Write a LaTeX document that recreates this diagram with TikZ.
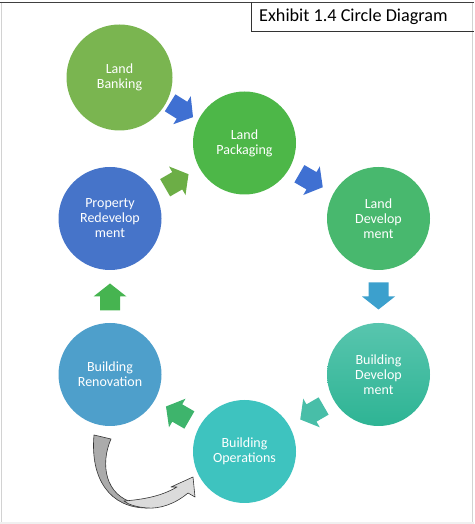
\documentclass[tikz,border=0pt]{standalone}
\usepackage{fontspec}
\setmainfont{Carlito}
\usepackage{xcolor}
\usetikzlibrary{calc}

\definecolor{bankgreen}{RGB}{122,181,80}
\definecolor{packgreen}{RGB}{77,183,72}
\definecolor{devgreen}{RGB}{72,184,110}
\definecolor{bdtop}{RGB}{88,197,174}
\definecolor{bdbot}{RGB}{46,180,148}
\definecolor{opsteal}{RGB}{62,195,191}
\definecolor{renoblue}{RGB}{78,159,203}
\definecolor{propblue}{RGB}{70,116,201}
\definecolor{arrblue}{RGB}{63,112,210}
\definecolor{arrsky}{RGB}{60,160,205}
\definecolor{arrteal}{RGB}{72,190,168}
\definecolor{arrgreen}{RGB}{62,180,108}
\definecolor{arrleaf}{RGB}{70,180,80}
\definecolor{arrolive}{RGB}{108,174,70}

\begin{document}
\begin{tikzpicture}[x=1pt, y=1pt,
  stage/.style={circle, minimum size=103pt, inner sep=0pt, text=white, align=center,
    font=\fontsize{14}{15}\selectfont},
  blockarr/.pic={\fill[pic actions] (-14,-10) -- (0,-10) -- (0,-16.5) -- (13,0) -- (0,16.5) -- (0,10) -- (-14,10) -- cycle;},
  curvearr/.style={draw=black!80, line width=0.6pt, line join=round}]
\useasboundingbox (0,0) rectangle (474,524);

% frame and title
\fill[gray!12] (0,0) rectangle (474,2.3);
\draw[gray!35] (1.5,2.3) -- (1.5,521.5);
\draw[gray!35] (472.5,2.3) -- (472.5,521.5);
\draw[black!75, line width=0.8pt] (0,521.5) -- (474,521.5);
\draw[black!80, line width=0.8pt] (251,521.5) -- (251,492.3) -- (474,492.3);
\node[anchor=west, inner sep=0pt, font=\fontsize{18.2}{20}\selectfont] (title) at (259,507) {Exhibit 1.4 Circle Diagram};

% stages
\node[stage, fill=bankgreen, minimum size=106pt] (lb) at (119.5,446.5) {Land\\Banking};
\node[stage, fill=packgreen] (lp) at (244.5,381) {Land\\Packaging};
\node[stage, fill=devgreen] (ld) at (378.5,305.5) {Land\\Develop\\ment};
\node[stage, top color=bdtop, bottom color=bdbot] (bd) at (378.5,149.5) {Building\\Develop\\ment};
\node[stage, fill=opsteal] (bo) at (244.5,72.5) {Building\\Operations};
\node[stage, fill=renoblue] (br) at (110,149.5) {Building\\Renovation};
\node[stage, fill=propblue] (pr) at (110,305.5) {Property\\Redevelop\\ment};

% block arrows between stages
\foreach \a/\b/\ang/\col in {lb/lp/-32/arrblue, lp/ld/-30/arrblue, ld/bd/-90/arrsky,
    bd/bo/-150/arrteal, bo/br/150/arrgreen, br/pr/90/arrleaf, pr/lp/30/arrolive}
  \pic[rotate=\ang, fill=\col] at ($(\a)!0.5!(\b)$) {blockarr};

% curved arrow from renovation back to operations
\draw[curvearr, fill=black!33] (94,89) -- (111,85) .. controls (100,60) and (105,28) .. (135,21)
  -- (147,16) .. controls (110,16) and (90,45) .. (94,89) -- cycle;
\draw[curvearr, fill=black!14] (124,23) .. controls (150,25) and (165,30) .. (177,37)
  -- (171,37) -- (193,47) -- (195,27) -- (188,31) .. controls (175,20) and (160,15) .. (147,16)
  .. controls (137,17) and (129,19) .. (124,23) -- cycle;
\end{tikzpicture}
\end{document}
